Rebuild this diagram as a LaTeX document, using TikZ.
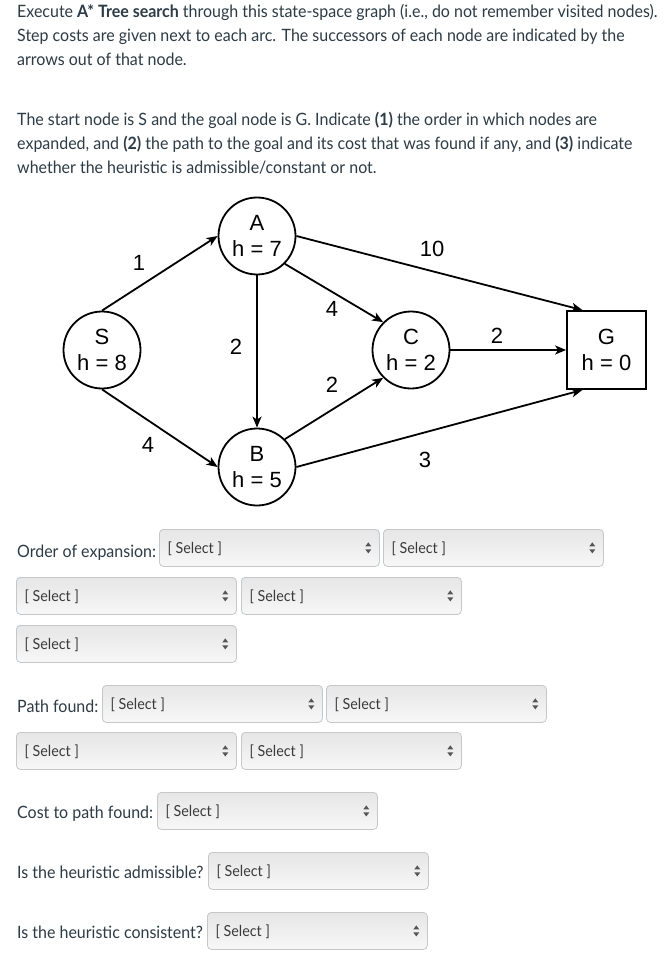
\documentclass[tikz,border=0pt]{standalone}
\usepackage{fontspec}
\setmainfont{Lato}[FakeStretch=0.94]
\newfontfamily\graphfont{Liberation Sans}
\usetikzlibrary{arrows.meta,calc}
\definecolor{txt}{HTML}{2D3B45}
\definecolor{selborder}{HTML}{C4C8CB}
\definecolor{seltop}{HTML}{E6E6E6}
\definecolor{selbot}{HTML}{F7F7F7}
\definecolor{seltxt}{HTML}{3A3A3A}
\definecolor{selarrow}{HTML}{555555}
\tikzset{
  para/.style={anchor=base west, inner sep=0pt, text=txt, font=\fontsize{17}{20}\selectfont},
  gnode/.style={circle, draw=black, line width=1.8pt, minimum size=77pt, inner sep=0pt, align=center,
    font=\graphfont\fontsize{22}{26.5}\selectfont},
  gbox/.style={rectangle, draw=black, line width=1.8pt, minimum width=79pt, minimum height=78pt, inner sep=0pt, align=center,
    font=\graphfont\fontsize{22}{26.5}\selectfont},
  garrow/.style={line width=1.8pt, -{Stealth[length=11pt,width=9pt,inset=3pt]}},
  glabel/.style={inner sep=0pt, font=\graphfont\fontsize{22}{24}\selectfont},
  selbox/.style={draw=selborder, line width=0.8pt, rounded corners=4pt, top color=seltop, bottom color=selbot,
    minimum width=220pt, minimum height=37pt, inner sep=0pt, anchor=north west},
  seltext/.style={anchor=base west, inner sep=0pt, text=seltxt, font=\fontsize{15.2}{18}\selectfont},
}
\newcommand\SelBox[3]{%
  \node[selbox] (#1) at (#2,#3) {};
  \node[seltext] (#1t) at ($(#1.north west)+(8.5,24)$) {[ Select ]};
  \fill[selarrow] ($(#1.east)+(-14.5,-1.5)$) -- ($(#1.east)+(-8.5,-1.5)$) -- ($(#1.east)+(-11.5,-5.5)$) -- cycle;
  \fill[selarrow] ($(#1.east)+(-14.5,1.5)$) -- ($(#1.east)+(-8.5,1.5)$) -- ($(#1.east)+(-11.5,5.5)$) -- cycle;
}
\begin{document}
\begin{tikzpicture}[x=1pt,y=-1pt]
\useasboundingbox (0,0) rectangle (666,957);
\fill[white] (0,0) rectangle (666,957);

% intro text
\node[para] (t1) at (17,18) {Execute \textbf{A* Tree search} through this state-space graph (i.e., do not remember visited nodes).};
\node[para] (t2) at (17,42) {Step costs are given next to each arc. The successors of each node are indicated by the};
\node[para] (t3) at (17,66) {arrows out of that node.};
\node[para] (t4) at (17,126) {The start node is S and the goal node is G. Indicate \textbf{(1)} the order in which nodes are};
\node[para] (t5) at (17,150) {expanded, and \textbf{(2)} the path to the goal and its cost that was found if any, and \textbf{(3)} indicate};
\node[para] (t6) at (17,174) {whether the heuristic is admissible/constant or not.};

% graph
\node[gnode] (S) at (102,350) {S\\h = 8};
\node[gnode] (A) at (257,236) {A\\h = 7};
\node[gnode] (B) at (257,467) {B\\h = 5};
\node[gnode] (C) at (411,350) {C\\h = 2};
\node[gbox] (G) at (606.5,350) {G\\h = 0};

\draw[garrow] (S.north) -- (A.west);
\draw[garrow] (S.south) -- (B.west);
\draw[garrow] (A.south) -- (B.north);
\draw[garrow] (A.south east) -- (C.north west);
\draw[garrow] (B.north east) -- (C.south west);
\draw[garrow] (A.east) -- ($(G.north)+(-24,0)$);
\draw[garrow] (C.east) -- (G.west);
\draw[garrow] (B.east) -- ($(G.south)+(-24,0)$);

\node[glabel] (l1) at (139,263) {1};
\node[glabel] (l2) at (148,445) {4};
\node[glabel] (l3) at (236,347) {2};
\node[glabel] (l4) at (332,309) {4};
\node[glabel] (l5) at (332,385) {2};
\node[glabel] (l6) at (432,249) {10};
\node[glabel] (l7) at (497,336) {2};
\node[glabel] (l8) at (425,460) {3};

% questions
\node[para] (q1) at (17,557) {Order of expansion:};
\SelBox{s1}{159}{529}
\SelBox{s2}{383}{529}
\SelBox{s3}{16}{577}
\SelBox{s4}{241}{577}
\SelBox{s5}{16}{625}

\node[para] (q2) at (17,712) {Path found:};
\SelBox{s6}{102}{685}
\SelBox{s7}{326}{685}
\SelBox{s8}{16}{732}
\SelBox{s9}{241}{732}

\node[para] (q3) at (17,818) {Cost to path found:};
\SelBox{s10}{157}{792}

\node[para] (q4) at (17,878) {Is the heuristic admissible?};
\SelBox{s11}{208}{852}

\node[para] (q5) at (17,938) {Is the heuristic consistent?};
\SelBox{s12}{207}{912}
\end{tikzpicture}
\end{document}
